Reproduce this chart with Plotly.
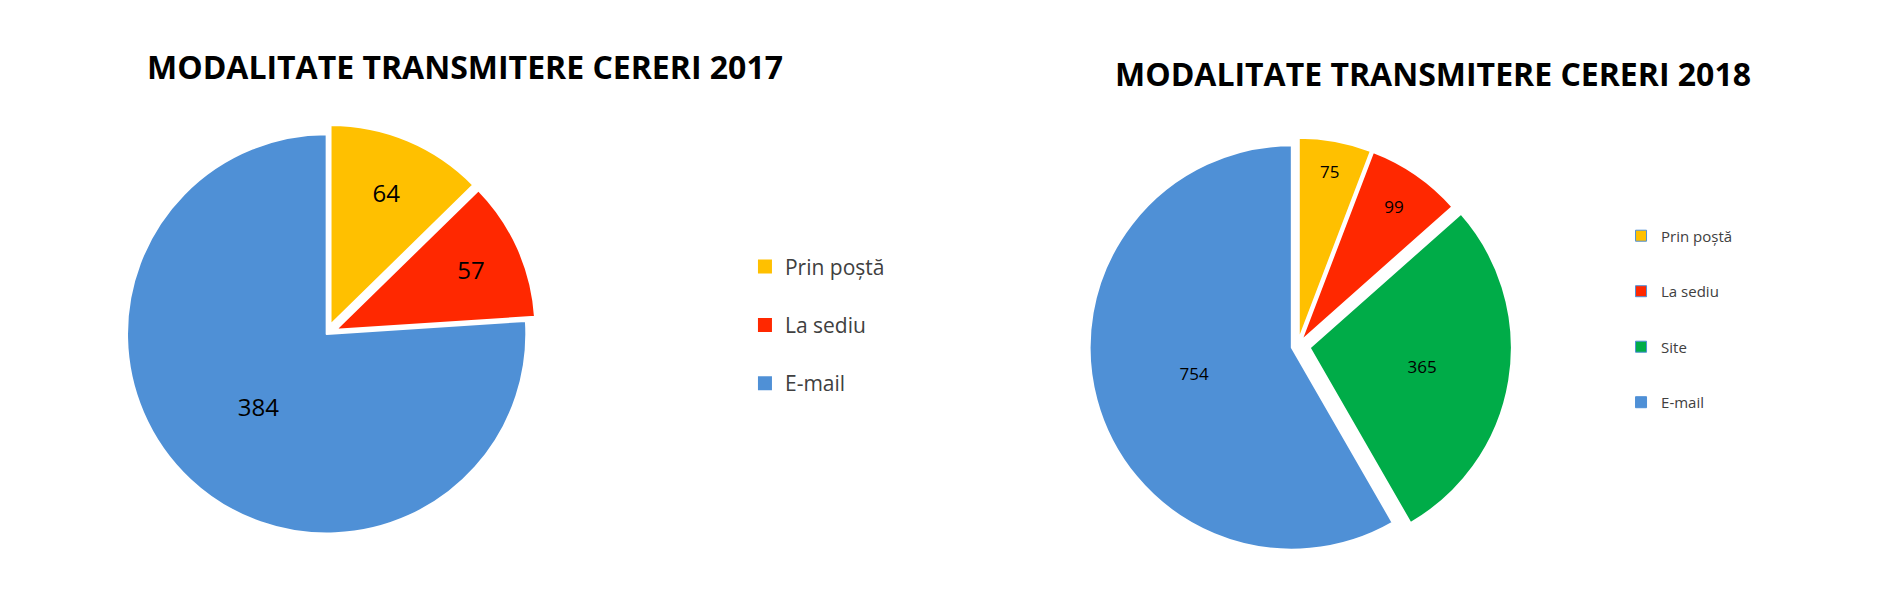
import plotly.graph_objects as go

# Data
labels_2017 = ["Prin poștă", "La sediu", "E-mail"]
values_2017 = [64, 57, 384]
colors_2017 = ["#FFC000", "#FF2800", "#4F90D6"]

labels_2018 = ["Prin poștă", "La sediu", "Site", "E-mail"]
values_2018 = [75, 99, 365, 754]
colors_2018 = ["#FFC000", "#FF2800", "#00AC48", "#4F90D6"]

fig = go.Figure()

fig.add_trace(go.Pie(
    labels=labels_2017, values=values_2017, sort=False, direction="clockwise",
    marker=dict(colors=colors_2017, line=dict(color="white", width=2)),
    pull=[0.05, 0.05, 0], textinfo="value", textposition="inside",
    insidetextfont=dict(color="black", size=24, family="Open Sans"),
    domain=dict(x=[0.058, 0.281], y=[0.10, 0.81]), showlegend=False,
))

fig.add_trace(go.Pie(
    labels=labels_2018, values=values_2018, sort=False, direction="clockwise",
    marker=dict(colors=colors_2018, line=dict(color="white", width=2)),
    pull=[0.03, 0.03, 0.06, 0.03], textinfo="value", textposition="inside",
    insidetextfont=dict(color="black", size=17, family="Open Sans"),
    domain=dict(x=[0.572, 0.800], y=[0.07, 0.80]), showlegend=False,
))

# legend entries (one group each so the gap between them can be set)
for lab, col in zip(labels_2017, colors_2017):
    fig.add_trace(go.Scatter(x=[None], y=[None], mode="markers", name=lab,
                             marker=dict(symbol="square", size=14, color=col),
                             legend="legend", legendgroup="a" + lab))
for lab, col in zip(labels_2018, colors_2018):
    fig.add_trace(go.Scatter(x=[None], y=[None], mode="markers", name=lab,
                             marker=dict(symbol="square", size=11, color=col,
                                         line=dict(color="#4F90D6", width=1)),
                             legend="legend2", legendgroup="b" + lab))

fig.update_layout(
    width=1880, height=598, margin=dict(l=0, r=0, t=0, b=0),
    paper_bgcolor="white", plot_bgcolor="white",
    font=dict(family="Open Sans", color="#404040"),
    xaxis=dict(visible=False), yaxis=dict(visible=False),
    legend=dict(x=0.392, y=0.47, yanchor="middle", font=dict(size=21),
                tracegroupgap=28, bgcolor="rgba(0,0,0,0)"),
    legend2=dict(x=0.858, y=0.48, yanchor="middle", font=dict(size=15),
                 tracegroupgap=33, bgcolor="rgba(0,0,0,0)"),
    annotations=[
        dict(text="<b>MODALITATE TRANSMITERE CERERI 2017</b>", x=0.243, y=0.903,
             xref="paper", yref="paper", showarrow=False, xanchor="center",
             yanchor="middle", font=dict(size=32, color="black", family="Open Sans")),
        dict(text="<b>MODALITATE TRANSMITERE CERERI 2018</b>", x=0.758, y=0.89,
             xref="paper", yref="paper", showarrow=False, xanchor="center",
             yanchor="middle", font=dict(size=32, color="black", family="Open Sans")),
    ],
)

fig.write_html("out.html")
